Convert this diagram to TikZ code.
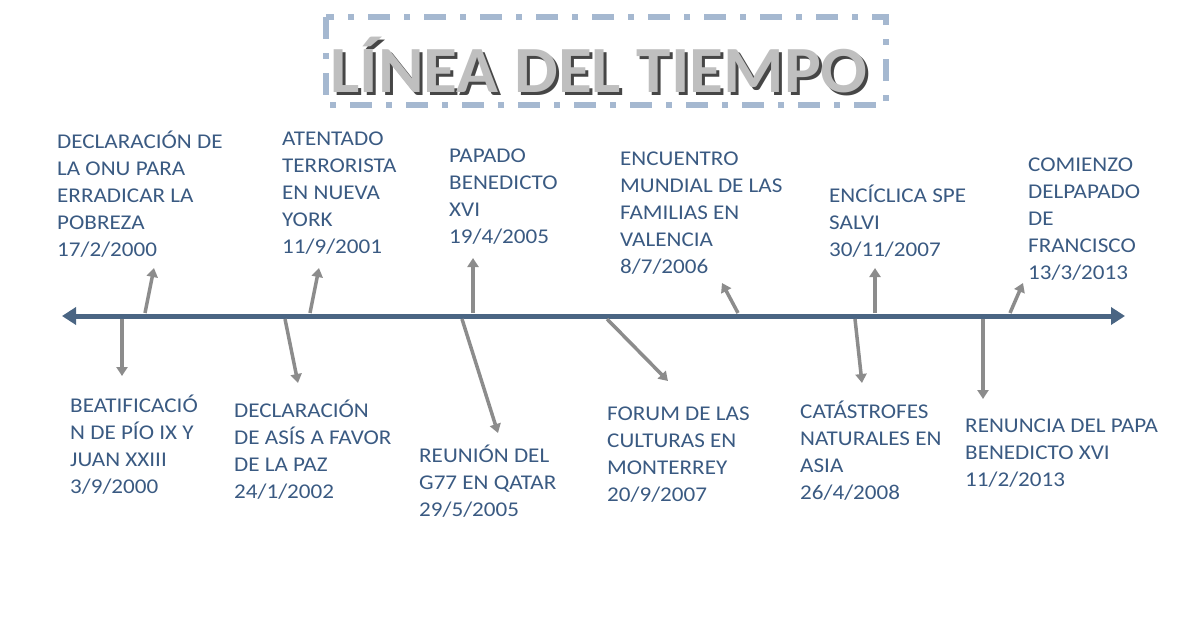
\documentclass[tikz,border=0pt]{standalone}
\usepackage{fontspec}
\setmainfont{Carlito}
\newfontfamily\evfont[FakeStretch=1.1]{Carlito}
\newfontfamily\ttlfont[FakeStretch=1.05]{Carlito}
\usetikzlibrary{arrows.meta}
\definecolor{txt}{HTML}{3A5A82}
\definecolor{axis}{HTML}{4A6583}
\definecolor{arr}{HTML}{8C8C8C}
\definecolor{frm}{HTML}{A5B8D0}
\tikzset{
 ev/.style={anchor=north west,inner sep=0pt,align=left,text=txt,font=\evfont\fontsize{21}{27}\selectfont},
 arw/.style={draw=arr,line width=3.5pt,-{Triangle[length=9pt,width=11pt]}},
}
\newcommand{\evt}[4]{\node[ev] (#1) at (#2,#3-19) {\strut #4};}
\newcommand{\ttltext}{LÍNEA DEL TIEMPO}
\begin{document}
\begin{tikzpicture}[x=1pt,y=-1pt]
\useasboundingbox (0,0) rectangle (1200,630);
% title frame
\draw[frm,line width=6pt,dash pattern=on 22pt off 14pt on 6pt off 14pt] (326,17) rectangle (886,105);
\node[text=gray!50,font=\ttlfont\fontsize{66}{66}\selectfont\bfseries] (title) at (599,67)
 {\rlap{\kern3pt\raisebox{-3pt}{\color{gray!55!black}\ttltext}}\ttltext};
% axis
\coordinate (L) at (62,316); \coordinate (R) at (1125,316);
\draw[axis,line width=5pt,{Triangle[length=14pt,width=17pt]}-{Triangle[length=14pt,width=17pt]}] (L) -- (R);
% events
\evt{e1}{57}{148}{DECLARACIÓN DE\\LA ONU PARA\\ERRADICAR LA\\POBREZA\\17/2/2000}
\evt{e2}{70}{412}{BEATIFICACIÓ\\N DE PÍO IX Y\\JUAN XXIII\\3/9/2000}
\evt{e3}{282}{145}{ATENTADO\\TERRORISTA\\EN NUEVA\\YORK\\11/9/2001}
\evt{e4}{234}{417}{DECLARACIÓN\\DE ASÍS A FAVOR\\DE LA PAZ\\24/1/2002}
\evt{e5}{449}{162}{PAPADO\\BENEDICTO\\XVI\\19/4/2005}
\evt{e6}{419}{462}{REUNIÓN DEL\\G77 EN QATAR\\29/5/2005}
\evt{e7}{620}{165}{ENCUENTRO\\MUNDIAL DE LAS\\FAMILIAS EN\\VALENCIA\\8/7/2006}
\evt{e8}{607}{420}{FORUM DE LAS\\CULTURAS EN\\MONTERREY\\20/9/2007}
\evt{e9}{829}{202}{ENCÍCLICA SPE\\SALVI\\30/11/2007}
\evt{e10}{800}{418}{CATÁSTROFES\\NATURALES EN\\ASIA\\26/4/2008}
\evt{e11}{1028}{171}{COMIENZO\\DELPAPADO\\DE\\FRANCISCO\\13/3/2013}
\evt{e12}{965}{432}{RENUNCIA DEL PAPA\\BENEDICTO XVI\\11/2/2013}
% arrows
\foreach \n/\a/\b/\c/\d in {1/145/313/154/268, 2/122/319/122/376, 3/310/313/319/268, 4/285/319/298/383,
 5/473/313/473/258, 6/462/319/498/433, 7/738/313/722/283, 8/607/319/668/381,
 9/875/313/875/268, 10/855/319/862/383, 11/1010/313/1023/283, 12/983/319/983/399}{
 \coordinate (s\n) at (\a,\b); \coordinate (t\n) at (\c,\d);
 \draw[arw] (s\n) -- (t\n);
}
\end{tikzpicture}
\end{document}
